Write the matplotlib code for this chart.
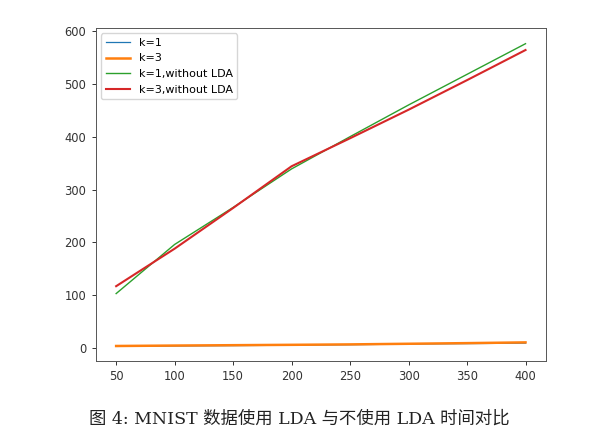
import numpy as np
import matplotlib
matplotlib.use("Agg")
import matplotlib.pyplot as plt

# sample sizes and timings
n_samples = [50, 100, 150, 200, 250, 300, 350, 400]
k1_lda = [3, 3.8, 4.5, 5.3, 6.2, 7.5, 8.3, 9.2]
k3_lda = [3.8, 4.6, 5.3, 6.0, 6.8, 8.0, 9.2, 10.6]
k1_nolda = [103, 196, 266, 339, 400, 460, 518, 576]
k3_nolda = [117, 188, 265, 344, 397, 451, 507, 564]

caption = "图 4: MNIST 数据使用 LDA 与不使用 LDA 时间对比"

fig = plt.figure(figsize=(5.98, 4.42), dpi=100)
ax = fig.add_axes([0.160, 0.184, 0.753, 0.753])

ax.plot(n_samples, k1_lda, color='tab:blue', linewidth=0.9, label='k=1')
ax.plot(n_samples, k3_lda, color='tab:orange', linewidth=1.8, label='k=3')
ax.plot(n_samples, k1_nolda, color='tab:green', linewidth=1.0, label='k=1,without LDA')
ax.plot(n_samples, k3_nolda, color='tab:red', linewidth=1.5, label='k=3,without LDA')

ax.set_xticks([50, 100, 150, 200, 250, 300, 350, 400])
ax.set_yticks([0, 100, 200, 300, 400, 500, 600])
ax.set_ylim(-24, 606)
ax.set_xlim(32.5, 417.5)
ax.tick_params(labelsize=8.3, length=3.2, width=0.7, colors='#333333')
for s in ax.spines.values():
    s.set_linewidth(0.7)
    s.set_color('#555555')

ax.legend(loc='upper left', fontsize=8, handlelength=2.2, framealpha=0.8)

fig.text(0.5, 0.052, caption, ha='center', va='center', fontsize=12.5,
         family=['DejaVu Serif', 'Noto Sans CJK SC'], color='#222222')

fig.savefig("out.png", dpi=100)
